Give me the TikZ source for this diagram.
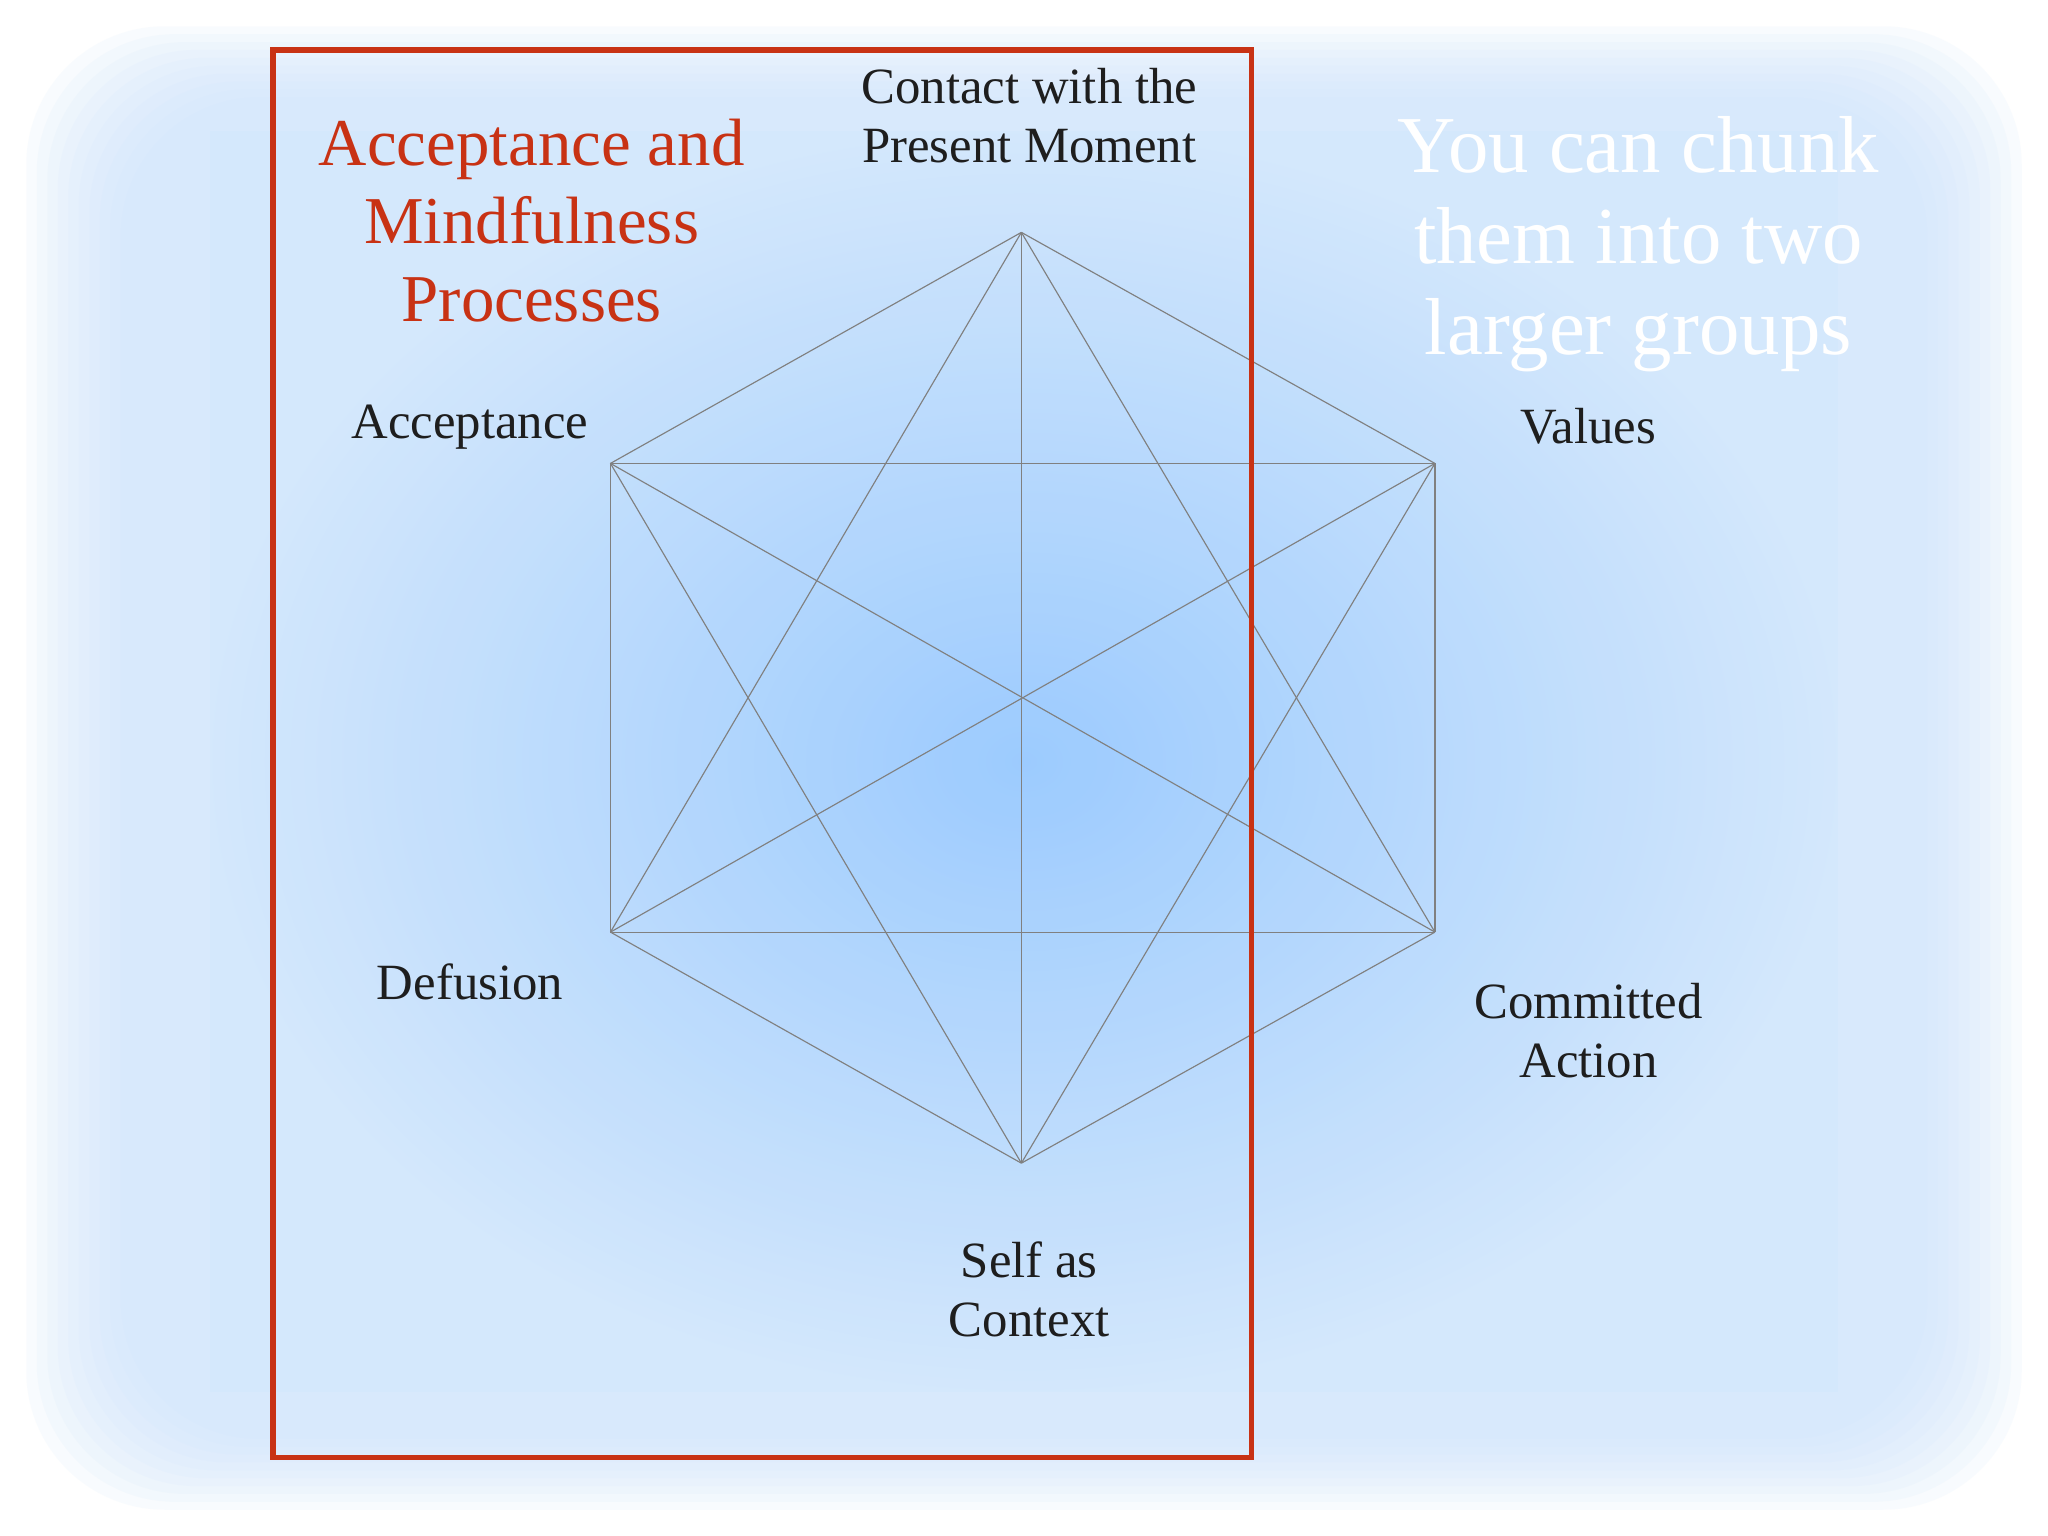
\documentclass[tikz,border=0pt]{standalone}
\usepackage{fontspec}
\setmainfont{Liberation Serif}
\definecolor{bgblue}{RGB}{150,200,255}
\definecolor{bgmid}{RGB}{205,228,252}
\definecolor{bgpale}{RGB}{238,246,255}
\definecolor{boxred}{RGB}{200,50,20}
\definecolor{txt}{RGB}{30,30,30}
\tikzset{lab/.style={font=\fontsize{11}{12.8}\selectfont,text=txt,align=center},
 edge/.style={draw=black!50,line width=0.25pt}}
\begin{document}
\begin{tikzpicture}[x=0.01cm,y=-0.01cm]
\useasboundingbox (0,0) rectangle (1560,1170);
\fill[white] (0,0) rectangle (1560,1170);
\foreach \i in {0,...,9}
  \fill[bgmid,opacity=0.12,rounded corners=30] (20+8*\i,20+6*\i) rectangle (1540-8*\i,1150-6*\i);
\shade[inner color=bgblue,outer color=bgmid!80!bgpale,opacity=0.9] (160,100) rectangle (1400,1060);
\coordinate (T) at (778,177);
\coordinate (UL) at (465,353);
\coordinate (UR) at (1093,353);
\coordinate (LL) at (465,710);
\coordinate (LR) at (1093,710);
\coordinate (B) at (778,886);
\foreach \a/\b in {T/UL,T/UR,T/LL,T/LR,T/B,UL/UR,UL/LL,UL/LR,UL/B,UR/LL,UR/LR,UR/B,LL/LR,LL/B,LR/B}
  \draw[edge] (\a) -- (\b);
\draw[boxred,line width=0.04cm] (208,38) rectangle (953,1110);
\node[lab] (ncp) at (784,88) {Contact with the\\Present Moment};
\node[lab] (nacc) at (358,325) {Acceptance};
\node[lab] (nval) at (1210,325) {Values};
\node[lab] (ndef) at (358,748) {Defusion};
\node[lab] (nca) at (1210,785) {Committed\\Action};
\node[lab] (nsc) at (784,982) {Self as\\Context};
\node[font=\fontsize{14.5}{16.8}\selectfont,text=boxred,align=center] (ttl) at (405,168) {Acceptance and\\Mindfulness\\Processes};
\node[font=\fontsize{17.5}{19.8}\selectfont,text=white,align=center] (chunk) at (1248,186) {You can chunk\\them into two\\larger groups};
\end{tikzpicture}
\end{document}
